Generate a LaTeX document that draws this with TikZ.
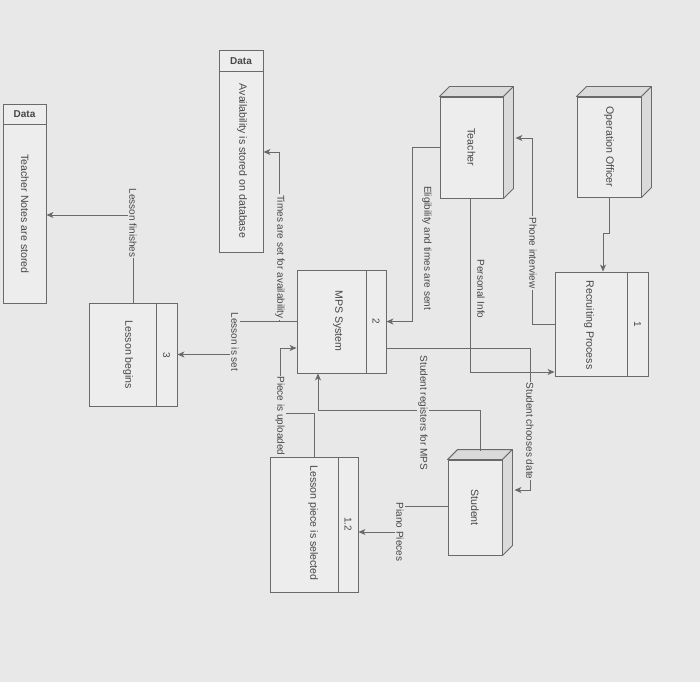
\documentclass[tikz,border=0pt]{standalone}
\usepackage{fontspec}
\setmainfont{Liberation Sans}
\usetikzlibrary{arrows.meta}
\definecolor{bg}{HTML}{E8E8E8}
\definecolor{boxf}{HTML}{EDEDED}
\definecolor{facef}{HTML}{DADADA}
\definecolor{ln}{HTML}{6A6A6A}
\definecolor{txt}{HTML}{474747}
\newcommand{\depthbox}[1]{%
  \filldraw[draw=ln,fill=facef,line width=0.9pt,line join=round] (#1.north west) -- ([xshift=10pt,yshift=10pt]#1.north west) -- ([xshift=10pt,yshift=10pt]#1.north east) -- (#1.north east) -- cycle;
  \filldraw[draw=ln,fill=facef,line width=0.9pt,line join=round] (#1.north east) -- ([xshift=10pt,yshift=10pt]#1.north east) -- ([xshift=10pt,yshift=10pt]#1.south east) -- (#1.south east) -- cycle;}
\begin{document}
\begin{tikzpicture}[x=1pt,y=-1pt,
  every node/.style={text=txt},
  entity/.style={draw=ln,fill=boxf,line width=0.9pt,inner sep=0pt,font=\fontsize{10.6}{12}\selectfont},
  procbox/.style={draw=ln,fill=boxf,line width=0.9pt,inner sep=0pt},
  store/.style={draw=ln,fill=boxf,line width=0.9pt,inner sep=0pt},
  ntext/.style={inner sep=0pt,font=\fontsize{10.6}{12}\selectfont},
  numtext/.style={inner sep=0pt,font=\fontsize{10}{12}\selectfont},
  elabel/.style={fill=bg,inner sep=1pt,font=\fontsize{10}{12}\selectfont},
  slabel/.style={inner sep=0pt,font=\fontsize{10}{12}\selectfont},
  divider/.style={draw=ln,line width=0.9pt},
  arr/.style={draw=ln,line width=0.9pt,-{Stealth[length=7pt,width=6pt,inset=2pt]}},
  flow/.style={draw=ln,line width=0.9pt}]
\fill[bg] (0,0) rectangle (700,682);
\useasboundingbox (0,0) rectangle (700,682);

% entities
\node[entity,minimum width=64pt,minimum height=100pt] (oo) at (609,147) {\rotatebox{-90}{Operation Officer}};
\depthbox{oo}
\node[entity,minimum width=63pt,minimum height=101pt] (tch) at (471.5,147.5) {\rotatebox{-90}{Teacher}};
\depthbox{tch}
\node[entity,minimum width=54pt,minimum height=95pt] (stu) at (475,507.5) {\rotatebox{-90}{Student}};
\depthbox{stu}

% processes
\node[procbox,minimum width=93pt,minimum height=104pt] (rp) at (601.5,324) {};
\draw[divider] ([xshift=-21pt]rp.north east) -- ([xshift=-21pt]rp.south east);
\node[numtext] (rpn) at (637.5,324) {\rotatebox{-90}{1}};
\node[ntext] (rpt) at (589,325) {\rotatebox{-90}{Recruiting Process}};

\node[procbox,minimum width=89pt,minimum height=103pt] (mps) at (341.5,321.5) {};
\draw[divider] ([xshift=-20pt]mps.north east) -- ([xshift=-20pt]mps.south east);
\node[numtext] (mpsn) at (376,321.5) {\rotatebox{-90}{2}};
\node[ntext] (mpst) at (338,321) {\rotatebox{-90}{MPS System}};

\node[procbox,minimum width=88pt,minimum height=135pt] (p12) at (314,524.5) {};
\draw[divider] ([xshift=-20pt]p12.north east) -- ([xshift=-20pt]p12.south east);
\node[numtext] (p12n) at (348,524) {\rotatebox{-90}{1.2}};
\node[ntext] (p12t) at (313,523) {\rotatebox{-90}{Lesson piece is selected}};

\node[procbox,minimum width=88pt,minimum height=103pt] (p3) at (133,354.5) {};
\draw[divider] ([xshift=-21pt]p3.north east) -- ([xshift=-21pt]p3.south east);
\node[numtext] (p3n) at (166.5,355) {\rotatebox{-90}{3}};
\node[ntext] (p3t) at (128,355) {\rotatebox{-90}{Lesson begins}};

% data stores
\node[store,minimum width=44pt,minimum height=202pt] (dsA) at (241,151) {};
\draw[divider] ([yshift=-22pt]dsA.north west) -- ([yshift=-22pt]dsA.north east);
\node[inner sep=0pt,font=\bfseries\fontsize{10}{12}\selectfont] (dsAh) at (241,61) {Data};
\node[ntext] (dsAt) at (242,161) {\rotatebox{-90}{Availability is stored on database}};

\node[store,minimum width=43pt,minimum height=199pt] (dsN) at (24.5,203.5) {};
\draw[divider] ([yshift=-21pt]dsN.north west) -- ([yshift=-21pt]dsN.north east);
\node[inner sep=0pt,font=\bfseries\fontsize{10}{12}\selectfont] (dsNh) at (24.5,114.5) {Data};
\node[ntext] (dsNt) at (25,214) {\rotatebox{-90}{Teacher Notes are stored}};

% flows
\draw[arr] (oo.south) -- ++(0,36) -| ([xshift=1.5pt]rp.north);

\draw[arr] (rp.west) -- ++(-22,0) |- ([xshift=12pt,yshift=9.5pt]tch.east);
\node[elabel] (lphone) at (533,253) {\rotatebox{-90}{Phone interview}};

\draw[arr] ([xshift=-1.5pt]tch.south) |- ([yshift=-48pt]rp.west);
\node[slabel] (lpers) at (481,289) {\rotatebox{-90}{Personal Info}};

\draw[arr] (tch.west) -- ++(-27,0) |- (mps.east);
\node[slabel] (lelig) at (427,248) {\rotatebox{-90}{Eligibility and times are sent}};

\draw[arr] ([yshift=-26.5pt]mps.east) -- ++(144,0) |- ([xshift=12pt,yshift=17.5pt]stu.east);
\node[elabel] (lchoose) at (530,431) {\rotatebox{-90}{Student chooses date}};

\draw[arr] ([xshift=5pt,yshift=9pt]stu.north) -- ++(0,-40) -| ([xshift=-23.5pt]mps.south);
\node[elabel] (lreg) at (423,413) {\rotatebox{-90}{Student registers for MPS}};

\draw[arr] ([yshift=1.5pt]stu.west) -- ++(-48,0) |- ([yshift=-7.5pt]p12.east);
\node[elabel] (lpiano) at (400,532) {\rotatebox{-90}{Piano Pieces}};

\draw[arr] (p12.north) -- ++(0,-43) -- ++(-34,0) |- ([yshift=-26.5pt]mps.west);
\node[elabel] (lpiece) at (280,416) {\rotatebox{-90}{Piece is uploaded}};

\draw[arr] (mps.west) -- ++(-17,0) |- ([yshift=-1pt]dsA.east);
\node[elabel] (ltimes) at (280,257) {\rotatebox{-90}{Times are set for availability}};

\draw[arr] (mps.west) -- ++(-62,0) |- (p3.east);
\node[elabel] (lset) at (235,342) {\rotatebox{-90}{Lesson is set}};

\draw[arr] (p3.north) |- ([yshift=-11.5pt]dsN.east);
\node[elabel] (lfin) at (133,223) {\rotatebox{-90}{Lesson finishes}};
\end{tikzpicture}
\end{document}
